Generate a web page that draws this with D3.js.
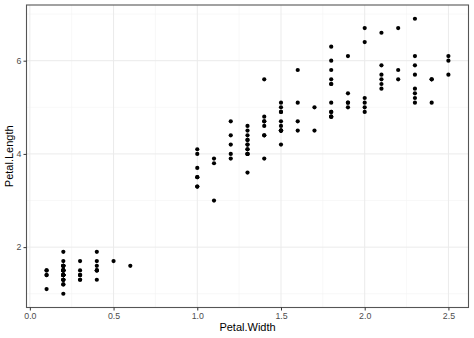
<!DOCTYPE html>
<html><head><meta charset="utf-8">
<script src="https://cdn.jsdelivr.net/npm/d3@7"></script>
<style>body{margin:0;background:#fff}svg{display:block}text{font-family:"Liberation Sans",Arial,sans-serif}</style>
</head><body><svg id="c" width="474" height="338"></svg>
<script>
const petalWidth = [0.2,0.2,0.2,0.2,0.2,0.4,0.3,0.2,0.2,0.1,0.2,0.2,0.1,0.1,0.2,0.4,0.4,0.3,0.3,0.3,0.2,0.4,0.2,0.5,0.2,0.2,0.4,0.2,0.2,0.2,0.2,0.4,0.1,0.2,0.2,0.2,0.2,0.1,0.2,0.2,0.3,0.3,0.2,0.6,0.4,0.3,0.2,0.2,0.2,0.2,
1.4,1.5,1.5,1.3,1.5,1.3,1.6,1.0,1.3,1.4,1.0,1.5,1.0,1.4,1.3,1.4,1.5,1.0,1.5,1.1,1.8,1.3,1.5,1.2,1.3,1.4,1.4,1.7,1.5,1.0,1.1,1.0,1.2,1.6,1.5,1.6,1.5,1.3,1.3,1.3,1.2,1.4,1.2,1.0,1.3,1.2,1.3,1.3,1.1,1.3,
2.5,1.9,2.1,1.8,2.2,2.1,1.7,1.8,1.8,2.5,2.0,1.9,2.1,2.0,2.4,2.3,1.8,2.2,2.3,1.5,2.3,2.0,2.0,1.8,2.1,1.8,1.8,1.8,2.1,1.6,1.9,2.0,2.2,1.5,1.4,2.3,2.4,1.8,1.8,2.1,2.4,2.3,1.9,2.3,2.5,2.3,1.9,2.0,2.3,1.8];
const petalLength = [1.4,1.4,1.3,1.5,1.4,1.7,1.4,1.5,1.4,1.5,1.5,1.6,1.4,1.1,1.2,1.5,1.3,1.4,1.7,1.5,1.7,1.5,1.0,1.7,1.9,1.6,1.6,1.5,1.4,1.6,1.6,1.5,1.5,1.4,1.5,1.2,1.3,1.4,1.3,1.5,1.3,1.3,1.3,1.6,1.9,1.4,1.6,1.4,1.5,1.4,
4.7,4.5,4.9,4.0,4.6,4.5,4.7,3.3,4.6,3.9,3.5,4.2,4.0,4.7,3.6,4.4,4.5,4.1,4.5,3.9,4.8,4.0,4.9,4.7,4.3,4.4,4.8,5.0,4.5,3.5,3.8,3.7,3.9,5.1,4.5,4.5,4.7,4.4,4.1,4.0,4.4,4.6,4.0,3.3,4.2,4.2,4.2,4.3,3.0,4.1,
6.0,5.1,5.9,5.6,5.8,6.6,4.5,6.3,5.8,6.1,5.1,5.3,5.5,5.0,5.1,5.3,5.5,6.7,6.9,5.0,5.7,4.9,6.7,4.9,5.7,6.0,4.8,4.9,5.6,5.8,6.1,6.4,5.6,5.1,5.6,6.1,5.6,5.5,4.8,5.4,5.6,5.1,5.1,5.9,5.7,5.2,5.0,5.2,5.4,5.1];
const xTicks = [0, 0.5, 1.0, 1.5, 2.0, 2.5];
const xMinor = [0.25, 0.75, 1.25, 1.75, 2.25];
const yTicks = [2, 4, 6];
const yMinor = [1, 3, 5, 7];
const xTitle = "Petal.Width", yTitle = "Petal.Length";

const svg = d3.select("#c");
const L = 26.5, R = 468.5, T = 5, B = 307.5;
const xr = d3.extent(petalWidth), yr = d3.extent(petalLength);
const xe = (xr[1]-xr[0])*0.05, ye = (yr[1]-yr[0])*0.05;
const x = d3.scaleLinear().domain([xr[0]-xe, xr[1]+xe]).range([L, R]);
const y = d3.scaleLinear().domain([yr[0]-ye, yr[1]+ye]).range([B, T]);

const g = svg.append("g");
g.append("rect").attr("x",L).attr("y",T).attr("width",R-L).attr("height",B-T).attr("fill","#fff");
g.selectAll(".mx").data(xMinor).join("line").attr("x1",d=>x(d)).attr("x2",d=>x(d)).attr("y1",T).attr("y2",B).attr("stroke","#f3f3f3").attr("stroke-width",0.6);
g.selectAll(".my").data(yMinor).join("line").attr("y1",d=>y(d)).attr("y2",d=>y(d)).attr("x1",L).attr("x2",R).attr("stroke","#f3f3f3").attr("stroke-width",0.6);
g.selectAll(".gx").data(xTicks).join("line").attr("x1",d=>x(d)).attr("x2",d=>x(d)).attr("y1",T).attr("y2",B).attr("stroke","#ebebeb").attr("stroke-width",1);
g.selectAll(".gy").data(yTicks).join("line").attr("y1",d=>y(d)).attr("y2",d=>y(d)).attr("x1",L).attr("x2",R).attr("stroke","#ebebeb").attr("stroke-width",1);

const idx = d3.range(petalWidth.length);
g.selectAll("circle").data(idx).join("circle")
  .attr("cx",i=>x(petalWidth[i])).attr("cy",i=>y(petalLength[i])).attr("r",2.1).attr("fill","#000");

g.append("rect").attr("x",L).attr("y",T).attr("width",R-L).attr("height",B-T).attr("fill","none").attr("stroke","#555").attr("stroke-width",1.1);

const xa = svg.append("g").attr("transform",`translate(0,${B})`)
  .call(d3.axisBottom(x).tickValues(xTicks).tickFormat(d3.format(".1f")).tickSizeOuter(0).tickSize(3).tickPadding(2));
const ya = svg.append("g").attr("transform",`translate(${L},0)`)
  .call(d3.axisLeft(y).tickValues(yTicks).tickFormat(d3.format("d")).tickSizeOuter(0).tickSize(3).tickPadding(2));
[xa, ya].forEach(a => {
  a.select(".domain").remove();
  a.selectAll(".tick line").attr("stroke","#333");
  a.selectAll(".tick text").attr("fill","#4d4d4d").style("font-size","8.8px").style("font-family","'Liberation Sans',Arial,sans-serif");
});
svg.append("text").attr("x",(L+R)/2).attr("y",331).attr("text-anchor","middle").attr("fill","#000").style("font-size","11px").text(xTitle);
svg.append("text").attr("transform",`translate(13,${(T+B)/2}) rotate(-90)`).attr("text-anchor","middle").attr("fill","#000").style("font-size","11px").text(yTitle);
</script></body></html>
